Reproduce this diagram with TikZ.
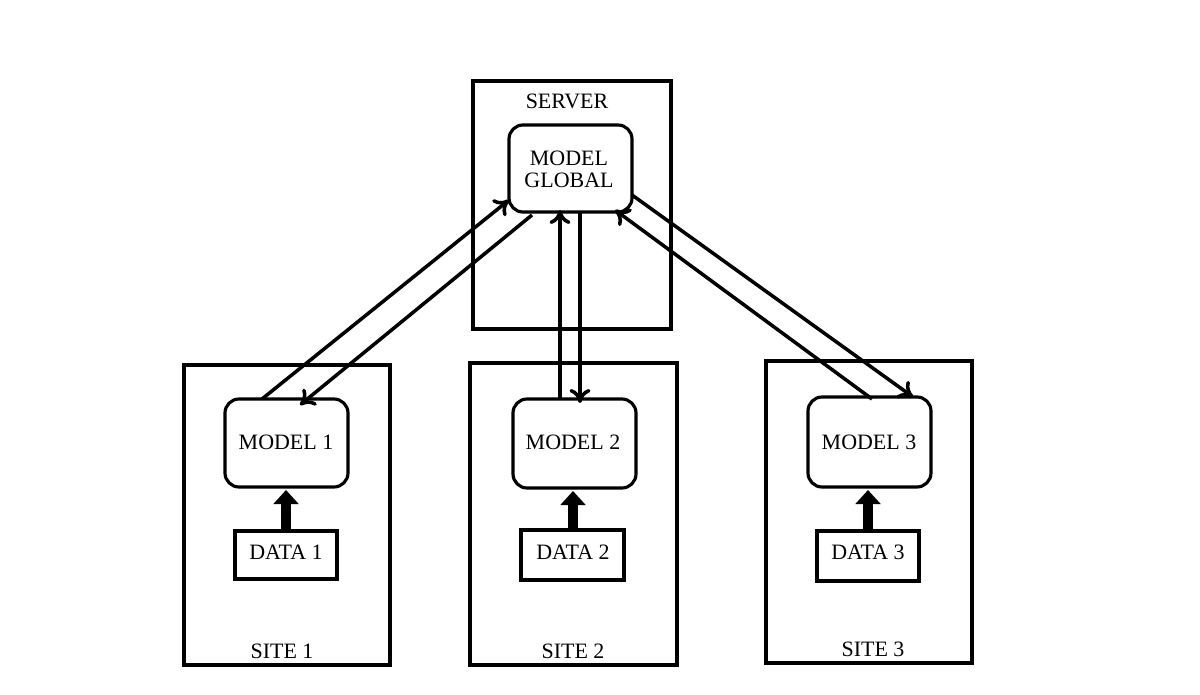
\documentclass[tikz,border=0pt]{standalone}
\usepackage{fontspec}
\setmainfont{Liberation Serif}
\usetikzlibrary{arrows.meta}
\begin{document}
\begin{tikzpicture}[x=0.02cm,y=-0.02cm,
 box/.style={draw,line width=1.8pt},
 rbox/.style={draw,line width=1.8pt,rounded corners=8pt},
 lab/.style={font=\fontsize{12.5}{13.5}\selectfont,align=center},
 link/.style={line width=2pt,-{To[length=8pt,width=12pt,line width=2pt]}},
 feed/.style={line width=6pt,-{Triangle[length=8pt,width=14pt]}}]
\useasboundingbox (0,0) rectangle (1200,695);
\draw[box] (473,81) rectangle (671,329);
\node[lab] (srv) at (567,101) {SERVER};
\draw[rbox] (509,125) rectangle (632,212);
\node[lab] (g) at (569,169) {MODEL\\[-1pt]GLOBAL};
\coordinate (gA) at (509,200); \coordinate (gB) at (532,215);
\coordinate (gC) at (560,210); \coordinate (gD) at (580,212);
\coordinate (gE) at (632,195); \coordinate (gF) at (615,210);
% sites
\draw[box] (184,365) rectangle (390,665);
\draw[box] (470,363) rectangle (677,665);
\draw[box] (766,361) rectangle (972,663);
\node[lab] (s1) at (282,651) {SITE 1};
\node[lab] (s2) at (573,651) {SITE 2};
\node[lab] (s3) at (873,649) {SITE 3};
\draw[rbox] (225,399) rectangle (348,487); \node[lab] (m1) at (286,442) {MODEL 1};
\draw[rbox] (513,399) rectangle (636,488); \node[lab] (m2) at (573,442) {MODEL 2};
\draw[rbox] (808,397) rectangle (931,487); \node[lab] (m3) at (869,442) {MODEL 3};
\draw[box] (235,531) rectangle (337,579); \node[lab] (d1) at (286,552) {DATA 1};
\draw[box] (521,530) rectangle (624,580); \node[lab] (d2) at (573,552) {DATA 2};
\draw[box] (817,531) rectangle (919,581); \node[lab] (d3) at (868,552) {DATA 3};
\draw[feed] (286,531) -- (286,490);
\draw[feed] (573,530) -- (573,491);
\draw[feed] (868,531) -- (868,490);
\coordinate (a1) at (262,399); \coordinate (b1) at (300,405);
\coordinate (a2) at (560,399); \coordinate (b2) at (580,403);
\coordinate (a3) at (872,399); \coordinate (b3) at (913,397);
\draw[link] (a1) -- (gA);
\draw[link] (gB) -- (b1);
\draw[link] (a2) -- (gC);
\draw[link] (gD) -- (b2);
\draw[link] (gE) -- (b3);
\draw[link] (a3) -- (gF);
\end{tikzpicture}
\end{document}
